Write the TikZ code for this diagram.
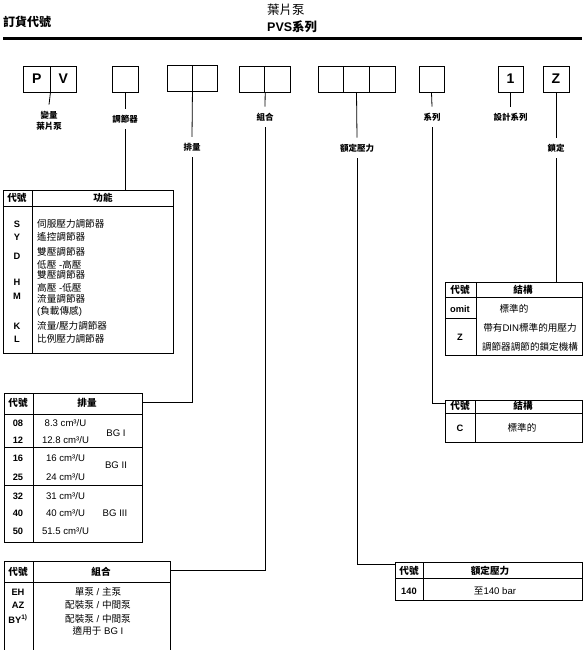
\documentclass[tikz,border=0pt]{standalone}
\usepackage{fontspec}
\setmainfont{Liberation Sans}
\newfontfamily\cjk{Noto Sans CJK TC}
\newcommand\zhtxt[1]{{\cjk #1}}
\begin{document}
\begin{tikzpicture}[x=1pt,y=-1pt,
 box/.style={draw, line width=0.9pt, minimum height=26pt, inner sep=0pt, font=\bfseries\fontsize{14}{16}\selectfont},
 lbl/.style={font=\cjk\bfseries\fontsize{8.5}{11}\selectfont, inner xsep=1pt, inner ysep=6pt, align=center},
 conn/.style={line width=0.8pt},
 tab/.style={draw, line width=0.9pt, inner sep=0pt},
 rul/.style={line width=0.8pt},
 tx/.style={font=\fontsize{9.6}{11}\selectfont, inner sep=0pt},
 code/.style={inner sep=0pt, font=\bfseries\fontsize{9.3}{11}\selectfont},
 hd/.style={inner sep=0pt, font=\cjk\bfseries\fontsize{9.6}{11}\selectfont}
]
\useasboundingbox (0,0) rectangle (585,650);
% header
\node[anchor=west, inner sep=0pt, font=\cjk\bfseries\fontsize{12}{14}\selectfont] (title) at (3,22) {訂貨代號};
\node[anchor=west, inner sep=0pt, font=\cjk\fontsize{12.5}{14}\selectfont] (sub1) at (267,10) {葉片泵};
\node[anchor=west, inner sep=0pt, font=\bfseries\fontsize{12.5}{14}\selectfont] (sub2) at (267,27) {PVS\zhtxt{系列}};
\draw[line width=2.5pt] (3,38.5) -- (582,38.5);

% code boxes
\node[box, minimum width=26.5pt] (p) at (36.75,79) {P};
\node[box, minimum width=26.5pt] (v) at (63.25,79) {V};
\node[box, minimum width=26pt] (reg) at (125,79) {};
\node[box, minimum width=25pt] (d1) at (179.5,78) {};
\node[box, minimum width=25pt] (d2) at (204.5,78) {};
\node[box, minimum width=25.5pt] (c1) at (252,79) {};
\node[box, minimum width=25.5pt] (c2) at (277.5,79) {};
\node[box, minimum width=25.67pt] (pr1) at (330.8,79) {};
\node[box, minimum width=25.67pt] (pr2) at (356.5,79) {};
\node[box, minimum width=25.67pt] (pr3) at (382.2,79) {};
\node[box, minimum width=25pt] (ser) at (431.5,79) {};
\node[box, minimum width=25pt] (one) at (510.5,79) {1};
\node[box, minimum width=26pt] (zb) at (556,79) {Z};

% labels
\node[lbl] (lPV) at (49,120.5) {變量\\葉片泵};
\node[lbl] (lReg) at (125,119) {調節器};
\node[lbl] (lDisp) at (192,147) {排量};
\node[lbl] (lComb) at (265,117) {組合};
\node[lbl] (lPress) at (357,148) {額定壓力};
\node[lbl] (lSer) at (432,117) {系列};
\node[lbl] (lOne) at (510.5,117) {設計系列};
\node[lbl] (lZ) at (556,148) {鎖定};

% tables
\node[tab, minimum width=170pt, minimum height=163pt] (tF) at (88,271.5) {};
\node[tab, minimum width=138pt, minimum height=149pt] (tD) at (73,467.5) {};
\node[tab, minimum width=166pt, minimum height=95pt] (tC) at (87,608.5) {};
\node[tab, minimum width=187pt, minimum height=38pt] (tP) at (488.5,581) {};
\node[tab, minimum width=137pt, minimum height=73pt] (tL) at (513.5,318.5) {};
\node[tab, minimum width=137pt, minimum height=42pt] (tS) at (513.5,421) {};

\coordinate (dJ) at (142,402);
\coordinate (cJ) at (170,570);
\coordinate (pJ) at (395,564);
\coordinate (sJ) at (445,403);

% connectors
\draw[conn] (p.south east) -- (lPV.north);
\draw[conn] (reg.south) -- (lReg.north);
\draw[conn] (lReg.south) -- (lReg.south |- tF.north);
\draw[conn] (d1.south east) -- (lDisp.north);
\draw[conn] (lDisp.south) |- (dJ);
\draw[conn] (c1.south east) -- (lComb.north);
\draw[conn] (lComb.south) |- (cJ);
\draw[conn] (pr2.south) -- (lPress.north);
\draw[conn] (lPress.south) |- (pJ);
\draw[conn] (ser.south) -- (lSer.north);
\draw[conn] (lSer.south) |- (sJ);
\draw[conn] (one.south) -- (lOne.north);
\draw[conn] (zb.south) -- (lZ.north);
\draw[conn] (lZ.south) -- (lZ.south |- tL.north);

% function table
\draw[rul] (3,206) -- (173,206);
\draw[rul] (32,190) -- (32,353);
\node[hd] at (17,198) {代號};
\node[hd] at (103,198) {功能};
\node[code] at (17,224) {S};
\node[tx, anchor=west] at (37,224) {\zhtxt{伺服壓力調節器}};
\node[code] at (17,237) {Y};
\node[tx, anchor=west] at (37,237) {\zhtxt{遙控調節器}};
\node[code] at (17,256) {D};
\node[tx, anchor=west] at (37,252) {\zhtxt{雙壓調節器}};
\node[tx, anchor=west] at (37,265) {\zhtxt{低壓} -\zhtxt{高壓}};
\node[code] at (17,282) {H};
\node[tx, anchor=west] at (37,275) {\zhtxt{雙壓調節器}};
\node[tx, anchor=west] at (37,288) {\zhtxt{高壓} -\zhtxt{低壓}};
\node[code] at (17,296) {M};
\node[tx, anchor=west] at (37,299) {\zhtxt{流量調節器}};
\node[tx, anchor=west] at (37,311) {(\zhtxt{負載傳感})};
\node[code] at (17,326) {K};
\node[tx, anchor=west] at (37,326) {\zhtxt{流量}/\zhtxt{壓力調節器}};
\node[code] at (17,339) {L};
\node[tx, anchor=west] at (37,339) {\zhtxt{比例壓力調節器}};

% displacement table
\draw[rul] (4,414) -- (142,414);
\draw[rul] (4,447) -- (142,447);
\draw[rul] (4,485) -- (142,485);
\draw[rul] (33,393) -- (33,542);
\node[hd] at (18,403) {代號};
\node[hd] at (87,403) {排量};
\node[code] at (18,423) {08};
\node[code] at (18,440) {12};
\node[code] at (18,458) {16};
\node[code] at (18,477) {25};
\node[code] at (18,496) {32};
\node[code] at (18,513) {40};
\node[code] at (18,531) {50};
\node[tx] at (65.5,423) {8.3 cm³/U};
\node[tx] at (65.5,440) {12.8 cm³/U};
\node[tx] at (65.5,458) {16 cm³/U};
\node[tx] at (65.5,477) {24 cm³/U};
\node[tx] at (65.5,496) {31 cm³/U};
\node[tx] at (65.5,513) {40 cm³/U};
\node[tx] at (65.5,531) {51.5 cm³/U};
\node[tx] at (116,433) {BG I};
\node[tx] at (116,465) {BG II};
\node[tx] at (115,513) {BG III};

% combination table
\draw[rul] (4,582) -- (170,582);
\draw[rul] (33,561) -- (33,656);
\node[hd] at (18,572) {代號};
\node[hd] at (101,572) {組合};
\node[code] at (18,592) {EH};
\node[code] at (18,605) {AZ};
\node[code] at (18,619) {BY\textsuperscript{1)}};
\node[tx] at (98,592) {\zhtxt{單泵} / \zhtxt{主泵}};
\node[tx] at (98,605) {\zhtxt{配裝泵} / \zhtxt{中間泵}};
\node[tx] at (98,619) {\zhtxt{配裝泵} / \zhtxt{中間泵}};
\node[tx] at (98,631) {\zhtxt{適用于} BG I};

% pressure table
\draw[rul] (395,578) -- (582,578);
\draw[rul] (423,562) -- (423,600);
\node[hd] at (409,571) {代號};
\node[hd] at (490,571) {額定壓力};
\node[code] at (409,591) {140};
\node[tx] at (495,591) {\zhtxt{至}140 bar};

% lock table
\draw[rul] (445,297) -- (582,297);
\draw[rul] (445,318) -- (476,318);
\draw[rul] (476,282) -- (476,355);
\node[hd] at (460,290) {代號};
\node[hd] at (523,290) {結構};
\node[code] at (460,309) {omit};
\node[tx] at (514,309) {\zhtxt{標準的}};
\node[code] at (460,337) {Z};
\node[tx] at (530,328) {\zhtxt{帶有}DIN\zhtxt{標準的用壓力}};
\node[tx] at (530,347) {\zhtxt{調節器調節的鎖定機構}};

% series table
\draw[rul] (445,413) -- (582,413);
\draw[rul] (475,400) -- (475,442);
\node[hd] at (460,406) {代號};
\node[hd] at (523,406) {結構};
\node[code] at (460,428) {C};
\node[tx] at (522,428) {\zhtxt{標準的}};
\end{tikzpicture}
\end{document}
